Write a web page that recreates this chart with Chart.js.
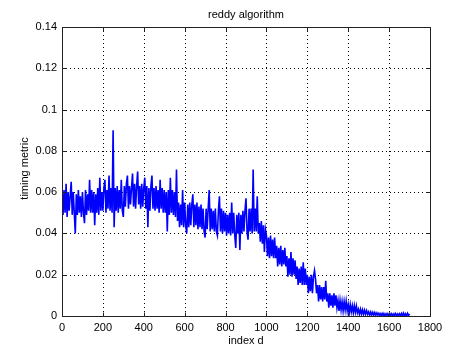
<!DOCTYPE html>
<html>
<head>
<meta charset="utf-8">
<script src="https://cdn.jsdelivr.net/npm/chart.js@4/dist/chart.umd.min.js"></script>
<style>
html,body{margin:0;padding:0;background:#fff;}
#wrap{position:relative;width:474px;height:355px;}
</style>
</head>
<body>
<div id="wrap"><canvas id="c" width="474" height="355"></canvas></div>
<script>
// ---- data ----
const chartTitle = 'reddy algorithm';
const xAxisTitle = 'index d';
const yAxisTitle = 'timing metric';
const indexStart = 0;
const indexStep = 5;
const timingMetric = [
  .059,.049,.061,.050,.064,.048,.060,.051,.058,.065,
  .049,.060,.050,.040,.059,.049,.061,.050,.058,.048,
  .060,.050,.045,.061,.049,.059,.051,.066,.050,.061,
  .050,.060,.044,.059,.050,.062,.049,.067,.051,.060,
  .051,.062,.066,.050,.061,.052,.068,.051,.062,.050,
  .090,.043,.062,.051,.063,.050,.061,.052,.066,.051,
  .048,.063,.053,.064,.068,.052,.063,.054,.062,.069,
  .053,.064,.052,.063,.070,.054,.063,.052,.064,.053,
  .062,.067,.052,.063,.043,.062,.051,.063,.068,.052,
  .062,.051,.063,.052,.061,.050,.066,.052,.062,.050,
  .061,.050,.060,.041,.061,.049,.067,.050,.061,.049,
  .060,.048,.071,.046,.055,.043,.054,.044,.061,.043,
  .055,.044,.040,.054,.043,.055,.044,.054,.059,.043,
  .054,.044,.055,.042,.053,.043,.054,.042,.052,.041,
  .038,.052,.042,.052,.061,.041,.052,.042,.051,.041,
  .052,.041,.039,.051,.058,.041,.052,.040,.051,.041,
  .050,.039,.049,.040,.050,.039,.055,.040,.050,.039,
  .033,.049,.040,.050,.032,.049,.040,.051,.041,.051,
  .057,.041,.037,.052,.041,.052,.040,.071,.041,.052,
  .041,.058,.040,.045,.036,.046,.035,.044,.031,.042,
  .039,.029,.038,.028,.039,.029,.037,.028,.038,.028,
  .034,.024,.033,.025,.034,.024,.032,.025,.033,.024,
  .029,.019,.028,.020,.031,.019,.028,.020,.027,.018,
  .024,.015,.023,.016,.024,.015,.026,.015,.023,.015,
  .020,.011,.019,.012,.020,.011,.019,.022,.018,.011,
  .015,.007,.015,.008,.014,.007,.014,.008,.017,.007,
  .011,.004,.011,.005,.010,.004,.011,.005,.010,.004,
  .0075,.0025,.0075,.003,.007,.0025,.007,.003,.0072,.0025,
  .0055,.0015,.0055,.002,.005,.0015,.005,.0018,.0048,.0015,
  .0032,.0008,.0032,.001,.003,.0008,.0028,.0009,.0026,.0008,
  .002,.0004,.0019,.0005,.0018,.0004,.0017,.0004,.0015,.0004,
  .0013,.0002,.0012,.0002,.0013,.0001,.0011,.0002,.0012,.0001,
  .0011,.0001,.0012,.0002,.0010,.0001,.0012,.0001,.0010,.0002,
  .0011,.0001,.0012,.0001,.0014,.0001,.0011,.0001,.0013,.0002,
  .0010
];
const xTickValues = [0,200,400,600,800,1000,1200,1400,1600,1800];
const yTickValues = [0,0.02,0.04,0.06,0.08,0.1,0.12,0.14];
const yTickLabels = ['0','0.02','0.04','0.06','0.08','0.1','0.12','0.14'];

// ---- build points from the sample grid ----
const points = timingMetric.map((v, i) => ({x: indexStart + i * indexStep, y: v}));

const FONT = 'Liberation Sans, Arial, sans-serif';

const matlabAxes = {
  id: 'matlabAxes',
  beforeDatasetsDraw(chart) {
    const {ctx, chartArea: a, scales: {x, y}} = chart;
    ctx.save();
    ctx.strokeStyle = '#000';
    ctx.lineWidth = 1;
    ctx.setLineDash([1, 3]);
    xTickValues.forEach(v => {
      const px = Math.round(x.getPixelForValue(v)) + 0.5;
      if (px <= a.left + 1 || px >= a.right - 1) return;
      ctx.beginPath(); ctx.moveTo(px, a.top); ctx.lineTo(px, a.bottom); ctx.stroke();
    });
    yTickValues.forEach(v => {
      const py = Math.round(y.getPixelForValue(v)) + 0.5;
      if (py <= a.top + 1 || py >= a.bottom - 1) return;
      ctx.beginPath(); ctx.moveTo(a.left, py); ctx.lineTo(a.right, py); ctx.stroke();
    });
    ctx.restore();
  },
  afterDatasetsDraw(chart) {
    const {ctx, chartArea: a, scales: {x, y}} = chart;
    ctx.save();
    ctx.strokeStyle = '#222';
    ctx.lineWidth = 1;
    ctx.setLineDash([]);
    const L = Math.round(a.left) + 0.5, R = Math.round(a.right) + 0.5;
    const T = Math.round(a.top) + 0.5, B = Math.round(a.bottom) + 0.5;
    ctx.strokeRect(L, T, R - L, B - T);
    const tl = 4;
    ctx.beginPath();
    xTickValues.forEach(v => {
      const px = Math.round(x.getPixelForValue(v)) + 0.5;
      ctx.moveTo(px, B); ctx.lineTo(px, B - tl);
      ctx.moveTo(px, T); ctx.lineTo(px, T + tl);
    });
    yTickValues.forEach(v => {
      const py = Math.round(y.getPixelForValue(v)) + 0.5;
      ctx.moveTo(L, py); ctx.lineTo(L + tl, py);
      ctx.moveTo(R, py); ctx.lineTo(R - tl, py);
    });
    ctx.stroke();
    // titles
    ctx.fillStyle = '#000';
    ctx.font = '11px ' + FONT;
    ctx.textAlign = 'center';
    ctx.textBaseline = 'middle';
    const cx = (a.left + a.right) / 2;
    ctx.fillText(chartTitle, cx, 15);
    ctx.fillText(xAxisTitle, cx, 341);
    ctx.translate(25, (a.top + a.bottom) / 2 - 3);
    ctx.rotate(-Math.PI / 2);
    ctx.fillText(yAxisTitle, 0, 0);
    ctx.restore();
  }
};

new Chart(document.getElementById('c'), {
  type: 'line',
  data: {
    datasets: [{
      data: points,
      borderColor: '#0000ff',
      borderWidth: 1.6,
      pointRadius: 0,
      tension: 0,
      fill: false
    }]
  },
  options: {
    responsive: false,
    animation: false,
    devicePixelRatio: 1,
    layout: {padding: {top: 27, right: 44, left: 0, bottom: 0}},
    plugins: {legend: {display: false}, tooltip: {enabled: false}, title: {display: false}},
    scales: {
      x: {
        type: 'linear', min: 0, max: 1800,
        afterBuildTicks: s => { s.ticks = xTickValues.map(v => ({value: v})); },
        afterFit: s => { s.height = 39; },
        grid: {display: false, drawTicks: false},
        border: {display: false},
        ticks: {color: '#000', font: {family: FONT, size: 11}, padding: 5, maxRotation: 0, autoSkip: false,
                callback: v => String(v)}
      },
      y: {
        type: 'linear', min: 0, max: 0.14,
        afterBuildTicks: s => { s.ticks = yTickValues.map(v => ({value: v})); },
        afterFit: s => { s.width = 62; },
        grid: {display: false, drawTicks: false},
        border: {display: false},
        ticks: {color: '#000', font: {family: FONT, size: 11}, padding: 5, autoSkip: false,
                callback: (v, i) => yTickLabels[i]}
      }
    }
  },
  plugins: [matlabAxes]
});
</script>
</body>
</html>
